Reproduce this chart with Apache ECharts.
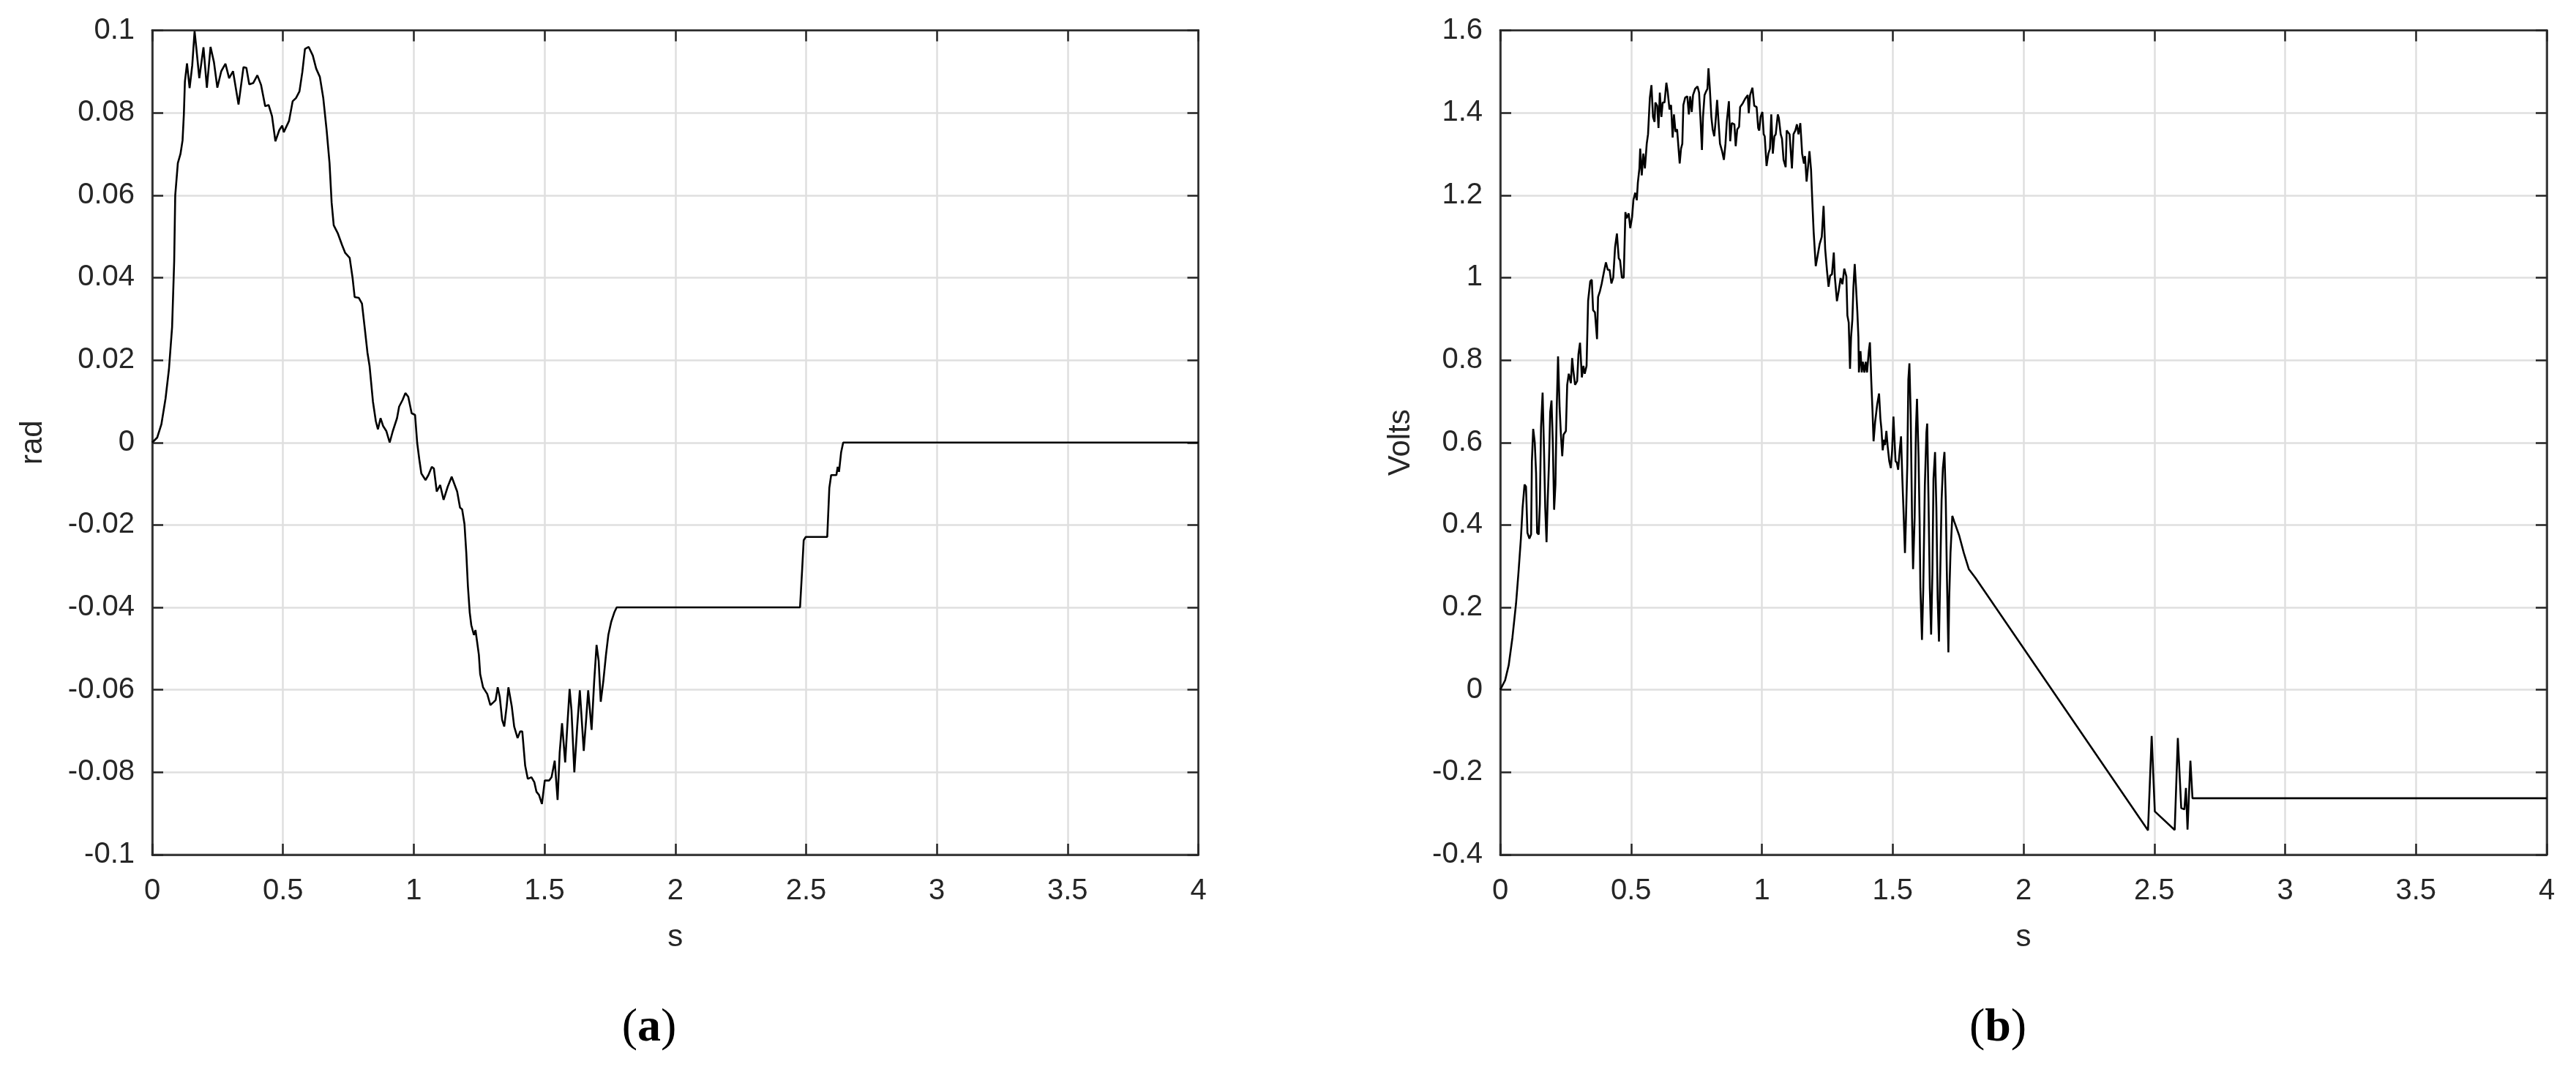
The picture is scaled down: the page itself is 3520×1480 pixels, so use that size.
<!DOCTYPE html>
<html>
<head>
<meta charset="utf-8">
<script src="https://cdn.jsdelivr.net/npm/echarts@6/dist/echarts.min.js"></script>
<style>html,body{margin:0;padding:0;background:#fff}#c{width:3520px;height:1480px}</style>
</head>
<body>
<div id="c"></div>
<script>
// ---------- data ----------
const xTicks = [0, 0.5, 1, 1.5, 2, 2.5, 3, 3.5, 4];

// (a) angle, rad
const timeA = [0,0.019,0.035,0.051,0.064,0.076,0.084,0.088,0.098,0.108,0.116,0.121,0.125,0.133,0.143,0.153,0.162,0.169,0.180,0.196,0.209,0.223,0.236,0.249,0.264,0.280,0.294,0.309,0.330,0.349,0.360,0.371,0.386,0.402,0.416,0.432,0.445,0.458,0.471,0.486,0.497,0.503,0.523,0.537,0.550,0.563,0.574,0.584,0.598,0.614,0.627,0.641,0.654,0.667,0.678,0.686,0.694,0.710,0.726,0.738,0.755,0.766,0.774,0.790,0.802,0.812,0.823,0.831,0.844,0.855,0.863,0.873,0.883,0.895,0.908,0.920,0.936,0.944,0.957,0.968,0.979,0.992,1.005,1.013,1.021,1.029,1.045,1.056,1.069,1.077,1.088,1.101,1.114,1.130,1.145,1.166,1.177,1.185,1.194,1.201,1.207,1.214,1.220,1.230,1.236,1.243,1.249,1.254,1.265,1.273,1.281,1.293,1.305,1.313,1.321,1.329,1.338,1.346,1.355,1.362,1.375,1.384,1.397,1.407,1.415,1.426,1.436,1.450,1.461,1.469,1.479,1.490,1.501,1.518,1.527,1.539,1.550,1.558,1.567,1.579,1.587,1.596,1.603,1.614,1.625,1.635,1.650,1.659,1.667,1.680,1.690,1.699,1.707,1.715,1.725,1.735,1.744,1.755,1.767,1.776,2.477,2.485,2.491,2.499,2.581,2.589,2.596,2.616,2.621,2.626,2.634,2.642,4];
const angleA = [0,0.0012,0.0044,0.0107,0.0178,0.028,0.044,0.060,0.0678,0.070,0.0733,0.0796,0.0876,0.092,0.086,0.0915,0.0998,0.0955,0.0884,0.0959,0.0861,0.096,0.0923,0.0861,0.0901,0.0919,0.0884,0.0901,0.082,0.0911,0.0909,0.0869,0.0872,0.0891,0.0868,0.0816,0.0819,0.0792,0.0731,0.0758,0.0769,0.0753,0.078,0.0828,0.0836,0.0852,0.0899,0.0955,0.096,0.0939,0.0907,0.0887,0.0836,0.0757,0.0678,0.0582,0.0527,0.0507,0.0479,0.046,0.0448,0.040,0.0353,0.0351,0.0337,0.0281,0.0218,0.0186,0.0099,0.0052,0.0032,0.0059,0.004,0.0028,0.0,0.0028,0.0059,0.0087,0.0103,0.012,0.0111,0.0071,0.0067,0,-0.004,-0.0075,-0.0091,-0.0079,-0.0059,-0.0063,-0.0119,-0.0103,-0.0139,-0.0107,-0.0083,-0.0119,-0.0158,-0.0162,-0.0198,-0.0269,-0.0348,-0.0412,-0.0443,-0.0467,-0.0455,-0.0487,-0.0515,-0.0562,-0.0594,-0.0602,-0.061,-0.0637,-0.063,-0.0625,-0.0594,-0.0618,-0.0673,-0.0689,-0.0641,-0.0594,-0.0641,-0.0689,-0.0717,-0.0701,-0.0701,-0.0784,-0.0816,-0.0812,-0.0824,-0.0847,-0.0855,-0.0877,-0.0820,-0.0820,-0.0812,-0.0772,-0.0867,-0.0752,-0.0681,-0.0776,-0.0689,-0.0598,-0.0649,-0.0800,-0.0689,-0.0601,-0.0748,-0.0673,-0.0601,-0.0697,-0.0578,-0.0491,-0.0530,-0.0629,-0.0578,-0.0515,-0.0467,-0.0435,-0.0412,-0.040,-0.040,-0.0309,-0.0237,-0.0229,-0.0229,-0.011,-0.0079,-0.0079,-0.0059,-0.0071,-0.0024,0,0];

// (b) voltage, Volts
const timeB = [0,0.0186,0.0325,0.0465,0.0604,0.0697,0.079,0.0855,0.093,0.0985,0.104,0.1115,0.118,0.121,0.126,0.132,0.137,0.141,0.147,0.1515,0.156,0.162,0.167,0.172,0.177,0.181,0.186,0.191,0.196,0.201,0.206,0.211,0.216,0.221,0.227,0.232,0.237,0.242,0.251,0.256,0.262,0.270,0.275,0.279,0.286,0.294,0.299,0.305,0.312,0.318,0.323,0.330,0.336,0.344,0.350,0.355,0.362,0.370,0.374,0.381,0.388,0.398,0.404,0.411,0.418,0.425,0.432,0.439,0.446,0.453,0.458,0.465,0.472,
0.4785,0.483,0.491,0.497,0.504,0.509,0.516,0.522,0.526,0.532,0.535,0.541,0.547,0.553,0.560,0.565,0.572,0.578,0.584,0.590,0.593,0.600,0.605,0.610,0.616,0.621,0.628,0.635,0.640,0.647,0.653,0.659,0.664,0.670,0.676,0.681,0.686,0.691,0.696,0.700,0.707,0.715,0.721,0.726,0.732,0.737,0.745,0.754,0.760,0.765,0.771,0.775,0.781,0.787,0.792,0.796,0.801,0.807,0.812,0.818,0.823,0.829,0.835,0.840,0.848,0.855,0.861,0.866,0.874,0.879,0.885,0.895,0.900,0.906,0.913,0.917,0.927,0.936,0.946,0.950,0.955,0.964,0.971,0.980,0.986,0.990,0.995,1.002,1.007,1.011,1.018,1.025,1.031,1.036,1.042,1.048,1.053,1.061,1.065,1.072,1.077,1.083,1.091,1.095,1.106,1.115,1.121,1.128,1.134,1.140,1.147,1.154,1.161,1.165,1.171,1.176,1.182,1.188,1.193,1.198,1.206,1.212,1.221,1.229,1.236,1.242,1.249,1.255,1.261,1.268,1.275,1.279,1.287,1.294,1.301,1.308,1.315,
1.317,1.323,1.327,1.332,1.337,1.341,1.346,1.350,1.355,1.360,1.365,1.369,1.371,1.377,1.382,1.386,1.392,1.397,1.402,1.409,1.413,1.418,1.423,1.427,1.433,1.441,1.448,1.453,1.457,1.462,1.467,1.471,1.476,1.481,1.487,1.493,1.498,1.503,1.507,1.511,1.516,1.521,1.527,1.532,1.537,1.541,1.547,1.551,1.556,1.560,1.564,1.569,1.574,1.578,1.584,1.589,1.593,1.599,1.603,1.606,1.612,1.617,1.623,1.629,1.632,1.637,1.642,1.647,1.652,1.656,1.662,1.667,1.672,1.677,1.682,1.687,1.692,1.698,1.703,1.707,1.713,1.716,1.721,1.728,1.735,1.754,1.772,1.791,1.817,
2.476,2.490,2.502,2.578,2.590,2.603,2.615,2.621,2.627,2.638,2.646,4];
const voltsB = [0,0.023,0.06,0.126,0.209,0.284,0.367,0.442,0.498,0.493,0.381,0.367,0.377,0.553,0.633,0.600,0.526,0.381,0.377,0.451,0.637,0.721,0.591,0.442,0.358,0.451,0.544,0.674,0.702,0.600,0.437,0.498,0.684,0.809,0.684,0.619,0.567,0.619,0.628,0.740,0.767,0.744,0.805,0.777,0.740,0.749,0.814,0.842,0.758,0.786,0.767,0.786,0.944,0.991,0.995,0.921,0.916,0.851,0.953,0.967,0.986,1.019,1.037,1.019,1.019,0.986,1.0,1.074,1.107,1.047,1.042,1.0,1.0,
1.159,1.144,1.156,1.120,1.147,1.188,1.206,1.188,1.230,1.265,1.313,1.248,1.301,1.265,1.325,1.348,1.437,1.467,1.39,1.378,1.425,1.417,1.363,1.449,1.39,1.425,1.425,1.473,1.452,1.408,1.419,1.340,1.396,1.354,1.360,1.363,1.277,1.313,1.325,1.419,1.437,1.440,1.396,1.440,1.402,1.443,1.458,1.464,1.449,1.390,1.310,1.390,1.443,1.452,1.458,1.508,1.461,1.390,1.360,1.343,1.378,1.431,1.372,1.325,1.307,1.286,1.325,1.378,1.428,1.331,1.375,1.372,1.319,1.360,1.366,1.414,1.423,1.434,1.443,1.399,1.443,1.461,1.417,1.414,1.363,1.357,1.390,1.402,1.348,1.343,1.271,1.301,1.313,1.396,1.301,1.343,1.348,1.396,1.387,1.348,1.337,1.286,1.268,1.357,1.348,1.265,1.348,1.357,1.372,1.348,1.375,1.301,1.277,1.295,1.233,1.265,1.307,1.262,1.183,1.111,1.028,1.049,1.082,1.099,1.174,1.070,1.017,0.978,1.005,1.008,1.061,1.002,0.943,0.969,0.999,0.984,1.022,
1.020,1.003,0.908,0.891,0.779,0.856,0.899,0.977,1.033,0.977,0.917,0.856,0.770,0.822,0.770,0.796,0.770,0.796,0.770,0.822,0.843,0.753,0.676,0.603,0.650,0.693,0.719,0.659,0.633,0.581,0.607,0.594,0.628,0.590,0.555,0.538,0.581,0.663,0.607,0.555,0.551,0.534,0.581,0.615,0.512,0.443,0.332,0.418,0.547,0.753,0.792,0.667,0.418,0.293,0.418,0.633,0.706,0.564,0.409,0.246,0.121,0.246,0.495,0.624,0.646,0.460,0.246,0.134,0.289,0.512,0.577,0.443,0.220,0.117,0.289,0.460,0.538,0.577,0.460,0.289,0.091,0.220,0.332,0.422,0.409,0.375,0.332,0.293,0.271,
-0.341,-0.112,-0.295,-0.340,-0.117,-0.287,-0.290,-0.238,-0.339,-0.172,-0.263,-0.263];

const yTicksA = [-0.1, 0.1, 0.02];   // min, max, step
const yTicksB = [-0.4, 1.6, 0.2];
const xName = 's', yNameA = 'rad', yNameB = 'Volts';
const captions = ['a', 'b'];

// ---------- chart ----------
const pairs = (t, v) => t.map((x, i) => [x, v[i]]);
const ink = '#262626', gridC = '#dfdfdf';
const font = 'Liberation Sans, Arial, Helvetica, sans-serif';
const grids = [
  {left: 208, top: 41.5, width: 1429.5, height: 1126.5},
  {left: 2050, top: 41.5, width: 1430, height: 1126.5}
].map(g => Object.assign(g, {show: true, borderColor: ink, borderWidth: 2.5, backgroundColor: '#fff'}));

function xAx(gi, pos) {
  const main = pos === 'bottom';
  return {
    type: 'value', gridIndex: gi, position: pos, min: xTicks[0], max: xTicks[xTicks.length - 1],
    interval: xTicks[1] - xTicks[0],
    name: main ? xName : '', nameLocation: 'middle', nameGap: 92,
    nameTextStyle: {fontFamily: font, fontSize: 42, color: ink},
    axisLine: {show: true, onZero: false, lineStyle: {color: ink, width: 2.5}},
    axisTick: {show: true, inside: true, length: 15, lineStyle: {color: ink, width: 2.5}},
    axisLabel: {show: main, margin: 30, fontFamily: font, fontSize: 40, color: ink},
    splitLine: {show: main, lineStyle: {color: gridC, width: 2.5}}
  };
}
function yAx(gi, pos, tk, name, gap) {
  const main = pos === 'left';
  return {
    type: 'value', gridIndex: gi, position: pos, min: tk[0], max: tk[1], interval: tk[2],
    name: main ? name : '', nameLocation: 'middle', nameGap: gap,
    nameTextStyle: {fontFamily: font, fontSize: 42, color: ink},
    axisLine: {show: true, onZero: false, lineStyle: {color: ink, width: 2.5}},
    axisTick: {show: true, inside: true, length: 15, lineStyle: {color: ink, width: 2.5}},
    axisLabel: {show: main, margin: 24, fontFamily: font, fontSize: 40, color: ink},
    splitLine: {show: main, lineStyle: {color: gridC, width: 2.5}}
  };
}

const chart = echarts.init(document.getElementById('c'), null, {renderer: 'canvas'});
const lineStyle = {color: '#000', width: 2.6};
chart.setOption({
  animation: false,
  backgroundColor: '#fff',
  grid: grids,
  xAxis: [xAx(0, 'bottom'), xAx(0, 'top'), xAx(1, 'bottom'), xAx(1, 'top')],
  yAxis: [yAx(0, 'left', yTicksA, yNameA, 142), yAx(0, 'right', yTicksA, '', 0),
          yAx(1, 'left', yTicksB, yNameB, 115), yAx(1, 'right', yTicksB, '', 0)],
  series: [
    {type: 'line', xAxisIndex: 0, yAxisIndex: 0, data: pairs(timeA, angleA), showSymbol: false, lineStyle, z: 5},
    {type: 'line', xAxisIndex: 2, yAxisIndex: 2, data: pairs(timeB, voltsB), showSymbol: false, lineStyle, z: 5}
  ],
  graphic: captions.map((c, i) => ({
    type: 'text', x: i === 0 ? 887 : 2730, y: 1405,
    style: {
      text: '{p|(}{b|' + c + '}{p|)}', align: 'center', verticalAlign: 'middle',
      rich: {
        p: {fontFamily: 'Liberation Serif, serif', fontSize: 64, fill: '#000', color: '#000'},
        b: {fontFamily: 'Liberation Serif, serif', fontSize: 64, fontWeight: 'bold', fill: '#000', color: '#000'}
      }
    }
  }))
});
</script>
</body>
</html>
